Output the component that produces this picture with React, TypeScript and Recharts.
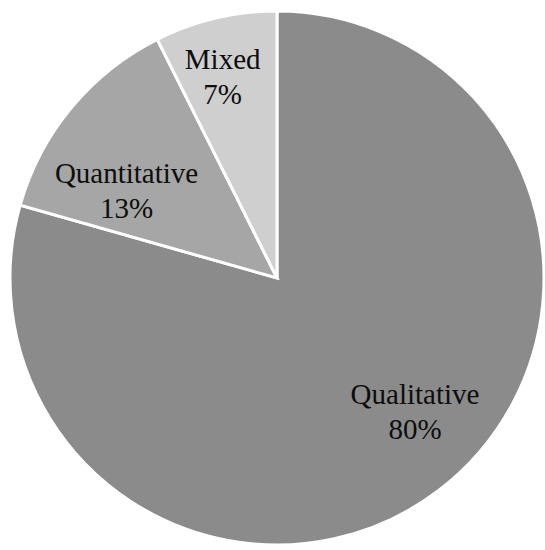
import React from "react";
import { PieChart, Pie, Cell } from "recharts";

const categories = ["Qualitative", "Quantitative", "Mixed"];
const shares = [79.4, 13.2, 7.4];
const percentLabels = ["80%", "13%", "7%"];
const colors = ["#8b8b8b", "#a6a6a6", "#cfcfcf"];

const data = categories.map((name, i) => ({
    name,
    value: shares[i],
    label: percentLabels[i],
}));

const RADIAN = Math.PI / 180;
// label placement tweaks per slice: radius fraction and angle nudge
const labelRadius = [0.72, 0.65, 0.78];
const labelNudge = [8.8, 9.7, 1.8];

const renderLabel = (props: any) => {
    const { cx, cy, midAngle, outerRadius, index } = props;
    const r = outerRadius * labelRadius[index];
    const a = (midAngle + labelNudge[index]) * RADIAN;
    const x = cx + r * Math.cos(a);
    const y = cy - r * Math.sin(a);
    return (
        <text
            x={x}
            y={y}
            textAnchor="middle"
            fill="#0d0d0d"
            fontFamily="'Liberation Serif', 'Times New Roman', serif"
            fontSize={29}
        >
            <tspan x={x} y={y - 8}>
                {data[index].name}
            </tspan>
            <tspan x={x} dy={35}>
                {data[index].label}
            </tspan>
        </text>
    );
};

const App: React.FC = () => (
    <div style={{ position: "absolute", left: 0, top: 0, width: 545, height: 550, background: "#fff" }}>
        <PieChart width={545} height={550}>
            <Pie
                data={data}
                dataKey="value"
                nameKey="name"
                cx={272}
                cy={273}
                outerRadius={267}
                startAngle={90}
                endAngle={-270}
                stroke="#fff"
                strokeWidth={3}
                label={renderLabel}
                labelLine={false}
                isAnimationActive={false}
            >
                {data.map((d, i) => (
                    <Cell key={d.name} fill={colors[i]} />
                ))}
            </Pie>
        </PieChart>
    </div>
);

export default App;
